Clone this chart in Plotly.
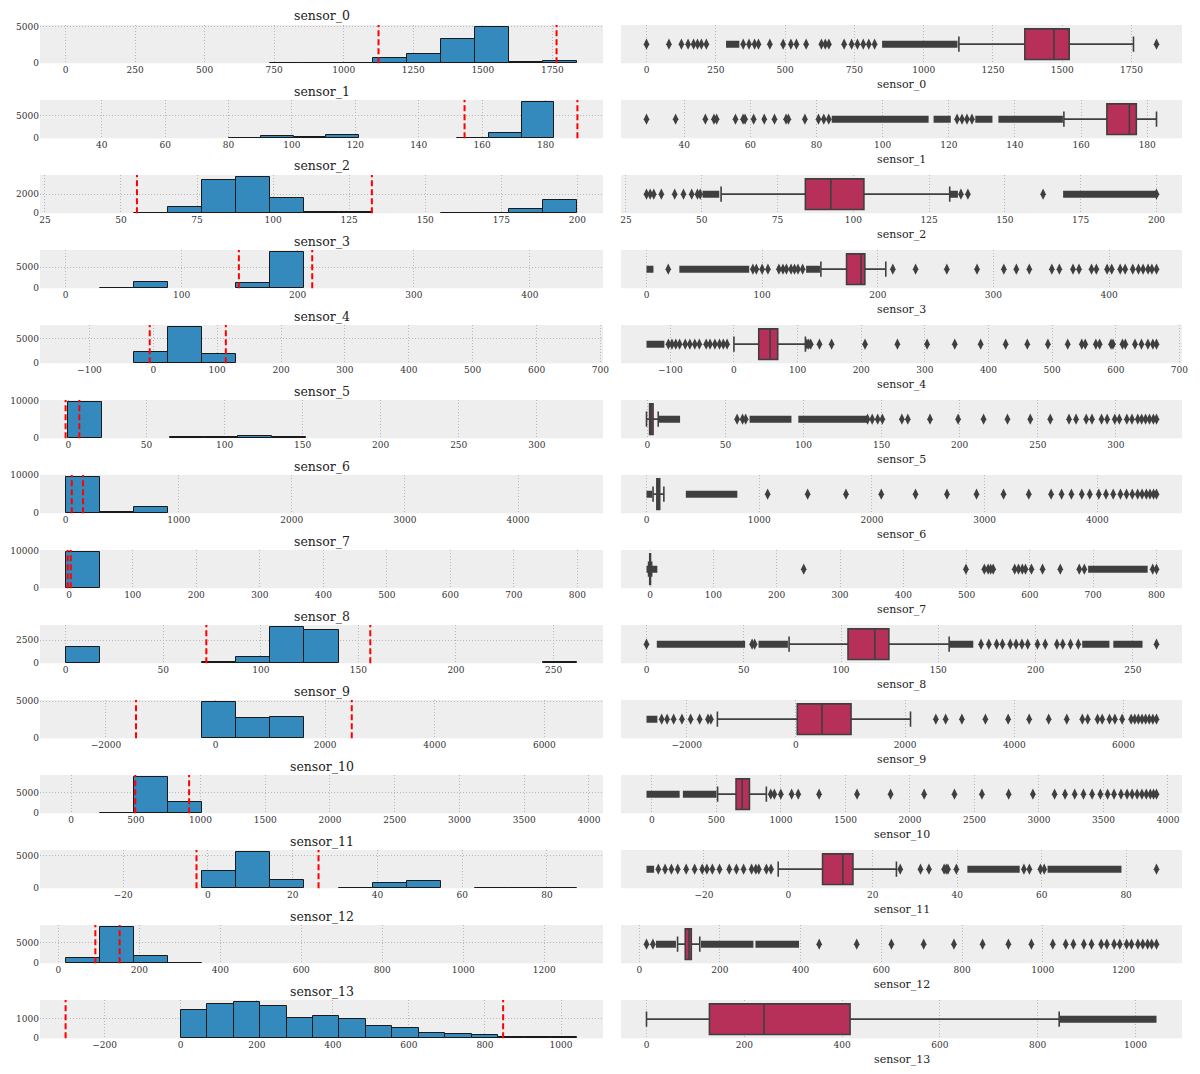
import numpy as np
import plotly.graph_objects as go

# ---------------- data ----------------
names = ["sensor_%d" % i for i in range(14)]

# histogram range (data min / max) and counts of the 15 equal bins
hist_min = [0, 28.6, 31.8, 0, -137.4, -0.5, 0, -5.7, 0, -2735, -42, -33.6, 18, 0]
hist_max = [1840, 182.8, 200, 441, 664, 326, 4525, 800, 262.2, 6603, 3911, 87.2, 1282, 1043]

counts_0 = [0, 0, 0, 0, 0, 0, 15, 40, 110, 700, 1270, 3300, 5000, 120, 350]
counts_1 = [0, 0, 0, 0, 0, 60, 500, 320, 720, 0, 0, 0, 40, 1180, 8160]
counts_2 = [0, 0, 60, 700, 3500, 3780, 1580, 140, 100, 0, 0, 30, 30, 460, 1400]
counts_3 = [0, 150, 1560, 0, 0, 1170, 8670, 0, 0, 0, 0, 0, 0, 0, 0]
counts_4 = [0, 0, 2230, 7360, 1820, 0, 0, 0, 0, 0, 0, 0, 0, 0, 0]
counts_5 = [9700, 0, 0, 220, 250, 600, 250, 0, 0, 0, 0, 0, 0, 0, 0]
counts_6 = [9600, 260, 1570, 0, 0, 0, 0, 0, 0, 0, 0, 0, 0, 0, 0]
counts_7 = [9650, 0, 0, 0, 0, 0, 0, 0, 0, 0, 0, 0, 0, 0, 0]
counts_8 = [1760, 0, 0, 0, 100, 630, 3940, 3630, 0, 0, 0, 0, 0, 0, 90]
counts_9 = [0, 0, 0, 0, 4900, 2740, 2830, 0, 0, 0, 0, 0, 0, 0, 0]
counts_10 = [0, 100, 8750, 2810, 0, 0, 0, 0, 0, 0, 0, 0, 0, 0, 0]
counts_11 = [0, 0, 0, 0, 2630, 5610, 1260, 0, 40, 760, 1110, 0, 40, 40, 30]
counts_12 = [1270, 8890, 1670, 100, 0, 0, 0, 0, 0, 0, 0, 0, 0, 0, 0]
counts_13 = [1475, 1746, 1880, 1644, 1034, 1170, 983, 644, 508, 254, 203, 153, 50, 50, 50]

# box statistics
box_q1 = [1365, 167.8, 84.2, 173, 39, 1.5, 92, -0.6, 103.6, 26, 652, 8.1, 114, 128.7]
box_med = [1470, 174.6, 92.6, 185.5, 56.8, 2.4, 105, 0, 117.4, 477, 700, 12.9, 123.3, 240.3]
box_q3 = [1525, 176.7, 103.5, 188.8, 68.8, 3.7, 117, 0.6, 124.6, 1010, 756, 15.3, 129, 416.3]
whisk_lo = [1127, 154.8, 56.4, 150.8, 0, -0.5, 58, -2.4, 73.3, -1437, 509, -2.4, 95, 0]
whisk_hi = [1757, 182.8, 131.8, 206.9, 112.3, 7, 154, 2.4, 155.6, 2099, 887, 25.6, 150, 844]

# individual outliers and dense runs of outliers (start, end)
outliers_0 = [0, 81, 126, 150, 170, 184, 198, 216, 349, 370, 390, 404, 445, 493, 521, 541, 576,
              631, 645, 658, 713, 740, 761, 782, 802, 823, 1840]
bands_0 = [[287, 335], [850, 1122]]
outliers_1 = [28.6, 37.4, 46.4, 49, 49.8, 55.5, 57.8, 58.4, 61, 64.2, 67.3, 70.8, 71.5, 76.5,
              80.6, 82.2, 83.7, 122.5, 124, 125.5, 127]
bands_1 = [[84.6, 113.9], [115.4, 120.6], [128, 133.2], [135, 154.5]]
outliers_2 = [31.8, 33.0, 34.2, 36.7, 41.1, 44, 46.7, 48.6, 49.5, 135.5, 137.8, 162.6, 200]
bands_2 = [[50.3, 55.8], [131.8, 134.5], [169.2, 200]]
outliers_3 = [18.8, 92, 95, 100, 105, 114.5, 118, 121, 125, 128, 131, 135, 213, 232.7, 259.7,
              285.8, 309, 319.8, 331, 350.5, 357, 368.8, 374, 384.8, 389, 398.3, 402.3, 409.6,
              413.9, 420.5, 425.4, 429.4, 433.7, 437, 441]
bands_3 = [[0, 6], [28.4, 88.8], [138, 150]]
outliers_4 = [-103, -97.4, -91.4, -85.4, -76.5, -69.3, -61.5, -54.4, -43.6, -37.6, -29.9,
              -22.7, -16.7, -10.8, 114.7, 117.5, 120.7, 134.4, 153.5, 206, 256.9, 303.5, 347,
              387.7, 427, 461, 493.4, 524.5, 546.6, 552, 568.7, 574.7, 592.6, 595.6, 610.5,
              615, 630.2, 640.4, 650.5, 658.3, 664]
bands_4 = [[-137.4, -109.3]]
outliers_5 = [57.5, 61, 63, 141, 144, 147.5, 150.5, 163, 166.8, 181, 199, 215.3, 230.6, 245.2,
              258, 270, 274.5, 281, 284.7, 290.8, 294.4, 299.3, 302.2, 307, 310.3, 314, 316.5,
              319, 321.5, 324, 326]
bands_5 = [[7, 21], [65.5, 92.3], [96.7, 141]]
outliers_6 = [1075, 1430, 1770, 2083, 2387, 2666, 2928, 3168, 3392, 3590, 3683, 3770, 3862,
              3933, 4013, 4077, 4141, 4205, 4259, 4310, 4358, 4397, 4435, 4467, 4499, 4525]
bands_6 = [[0, 50], [349, 806]]
outliers_7 = [242.7, 499, 528, 534, 538, 542, 576, 582, 588, 593, 602.5, 620, 648, 678, 686,
              794, 800]
bands_7 = [[-5.7, 11.4], [692, 786]]
outliers_8 = [0, 54.3, 55.6, 172, 176, 180, 183, 187, 190, 193, 196, 201, 205, 211, 214, 218,
              222, 262.2]
bands_8 = [[5.3, 50.7], [57.6, 72.7], [155.6, 168], [224, 238], [240, 255]]
outliers_9 = [-2457, -2358, -2238, -2086, -1927, -1762, -1609, -1556, 2563, 2742, 3040, 3470,
              3887, 4272, 4629, 4960, 5245, 5344, 5523, 5609, 5742, 5841, 5974, 6139, 6205,
              6271, 6338, 6404, 6470, 6536, 6603]
bands_9 = [[-2735, -2536]]
outliers_10 = [921, 949, 999, 1083, 1134, 1296, 1590, 1850, 2110, 2345, 2558, 2765, 2953, 3121,
               3202, 3277, 3345, 3412, 3476, 3532, 3582, 3636, 3683, 3722, 3761, 3798, 3832,
               3863, 3888, 3911]
bands_10 = [[-42, 215], [240, 500]]
outliers_11 = [-30.8, -29.2, -27.7, -26.2, -24.2, -22.2, -20.4, -19.3, -18.0, -16.3, -14.0,
               -12.3, -10.6, -8.7, -7.7, -7.0, -5.2, -4.1, 26.5, 31.3, 33.3, 36.9, 37.4, 37.8,
               39.8, 55.8, 57.1, 59.7, 60.6, 87.2]
bands_11 = [[-33.6, -31.8], [42.4, 54.8], [61.4, 78.9]]
outliers_12 = [18, 33.9, 446, 539, 625, 705, 780, 851, 915, 972, 1025, 1057, 1076, 1102, 1121,
               1145, 1159, 1177, 1191, 1208, 1220, 1236, 1248, 1260, 1270, 1282]
bands_12 = [[41.4, 91], [153, 283], [288, 396]]
outliers_13 = []
bands_13 = [[844, 1043]]

x_dtick = [250, 20, 25, 100, 100, 50, 1000, 100, 50, 2000, 500, 20, 200, 200]
y_dtick = [5000, 5000, 2000, 5000, 5000, 10000, 10000, 10000, 2500, 5000, 5000, 5000, 5000, 1000]

all_counts = [counts_0, counts_1, counts_2, counts_3, counts_4, counts_5, counts_6, counts_7,
              counts_8, counts_9, counts_10, counts_11, counts_12, counts_13]
all_outliers = [outliers_0, outliers_1, outliers_2, outliers_3, outliers_4, outliers_5, outliers_6,
                outliers_7, outliers_8, outliers_9, outliers_10, outliers_11, outliers_12, outliers_13]
all_bands = [bands_0, bands_1, bands_2, bands_3, bands_4, bands_5, bands_6, bands_7, bands_8,
             bands_9, bands_10, bands_11, bands_12, bands_13]

# ---------------- style / layout constants ----------------
W, H = 1200, 1074
LX0, LX1 = 40, 603
RX0, RX1 = 621, 1182
TOP0, PITCH, PH = 25, 75, 38.3
FONT = "DejaVu Serif"
BG = "#eeeeee"
GRID = "#b8b8b8"
BAR = "#348ABD"
BOXC = "#b7305a"
DARK = "#3f3f3f"

fig = go.Figure()
layout = dict(template="none", width=W, height=H, margin=dict(l=0, r=0, t=0, b=0, pad=0, autoexpand=False),
              paper_bgcolor="white", plot_bgcolor=BG, showlegend=False,
              font=dict(family=FONT, size=9, color="#333333"))
shapes = []
annotations = []


def px_x(p):
    return p / W


def px_y(p):
    return 1 - p / H


def ref(letter, n):
    return letter if n == 1 else "%s%d" % (letter, n)


def key(letter, n):
    return "%saxis" % letter if n == 1 else "%saxis%d" % (letter, n)


for i in range(14):
    nl, nr = 2 * i + 1, 2 * i + 2
    top = TOP0 + PITCH * i
    bot = top + PH
    ydom = [px_y(bot), px_y(top)]

    # --- histogram ---
    edges = np.linspace(hist_min[i], hist_max[i], 16)
    centers = (edges[:-1] + edges[1:]) / 2
    widths = edges[1:] - edges[:-1]
    cnt = all_counts[i]
    shown = [c if c > 0 else None for c in cnt]
    fig.add_trace(go.Bar(x=centers, y=shown, width=widths,
                         marker=dict(color=BAR, line=dict(color="#1a1a1a", width=1)),
                         xaxis=ref("x", nl), yaxis=ref("y", nl), hoverinfo="skip"))
    iqr = box_q3[i] - box_q1[i]
    f_lo = box_q1[i] - 1.5 * iqr
    f_hi = box_q3[i] + 1.5 * iqr
    for f in (f_lo, f_hi):
        shapes.append(dict(type="line", xref=ref("x", nl), yref=ref("y", nl) + " domain",
                           x0=f, x1=f, y0=0, y1=1,
                           line=dict(color="red", width=2, dash="6px,3px")))
    lo_l = min(hist_min[i], f_lo)
    hi_l = max(hist_max[i], f_hi)
    sp = hi_l - lo_l
    xr_left = [lo_l - 0.05 * sp, hi_l + 0.05 * sp]
    ymax = 1.05 * max(cnt)

    axcommon = dict(showgrid=True, gridcolor=GRID, griddash="1px,2px", gridwidth=0.8, zeroline=False,
                    showline=False, ticks="", automargin=False,
                    tickfont=dict(family=FONT, size=9, color="#333333"))
    layout[key("x", nl)] = dict(domain=[px_x(LX0), px_x(LX1)], anchor=ref("y", nl), range=xr_left,
                                tick0=0, dtick=x_dtick[i], tickformat="d", **axcommon)
    layout[key("y", nl)] = dict(domain=ydom, anchor=ref("x", nl), range=[0, ymax], tick0=0,
                                dtick=y_dtick[i], tickformat="d", **axcommon)

    # --- box plot ---
    fig.add_trace(go.Box(y=[0], q1=[box_q1[i]], median=[box_med[i]], q3=[box_q3[i]],
                         lowerfence=[whisk_lo[i]], upperfence=[whisk_hi[i]], orientation="h",
                         width=0.8, whiskerwidth=0.5, fillcolor=BOXC, line=dict(color=DARK, width=1.6),
                         boxpoints=False, xaxis=ref("x", nr), yaxis=ref("y", nr), hoverinfo="skip"))
    for b in all_bands[i]:
        fig.add_trace(go.Scatter(x=[b[0], b[1]], y=[0, 0], mode="lines", line=dict(color=DARK, width=7),
                                 xaxis=ref("x", nr), yaxis=ref("y", nr), hoverinfo="skip"))
    pts = all_outliers[i]
    if pts:
        fig.add_trace(go.Scatter(x=pts, y=[0] * len(pts), mode="markers",
                                 marker=dict(symbol="diamond-tall", size=8, color=DARK, line=dict(width=0)),
                                 xaxis=ref("x", nr), yaxis=ref("y", nr), hoverinfo="skip"))
    sp_r = hist_max[i] - hist_min[i]
    xr_right = [hist_min[i] - 0.05 * sp_r, hist_max[i] + 0.05 * sp_r]
    layout[key("x", nr)] = dict(domain=[px_x(RX0), px_x(RX1)], anchor=ref("y", nr), range=xr_right,
                                tick0=0, dtick=x_dtick[i], tickformat="d", **axcommon)
    layout[key("y", nr)] = dict(domain=ydom, anchor=ref("x", nr), range=[-0.5, 0.5], showgrid=False,
                                zeroline=False, showticklabels=False, ticks="", showline=False,
                                automargin=False)

    # titles
    annotations.append(dict(text=names[i], x=px_x((LX0 + LX1) / 2), y=px_y(top), xref="paper", yref="paper",
                            xanchor="center", yanchor="middle", yshift=9, showarrow=False,
                            font=dict(family=FONT, size=12.5, color="#222222")))
    annotations.append(dict(text=names[i], x=px_x((RX0 + RX1) / 2), y=px_y(bot), xref="paper", yref="paper",
                            xanchor="center", yanchor="middle", yshift=-21, showarrow=False,
                            font=dict(family=FONT, size=11, color="#222222")))

layout["shapes"] = shapes
layout["annotations"] = annotations
layout["bargap"] = 0
fig.update_layout(**layout)
fig.write_html("out.html")
